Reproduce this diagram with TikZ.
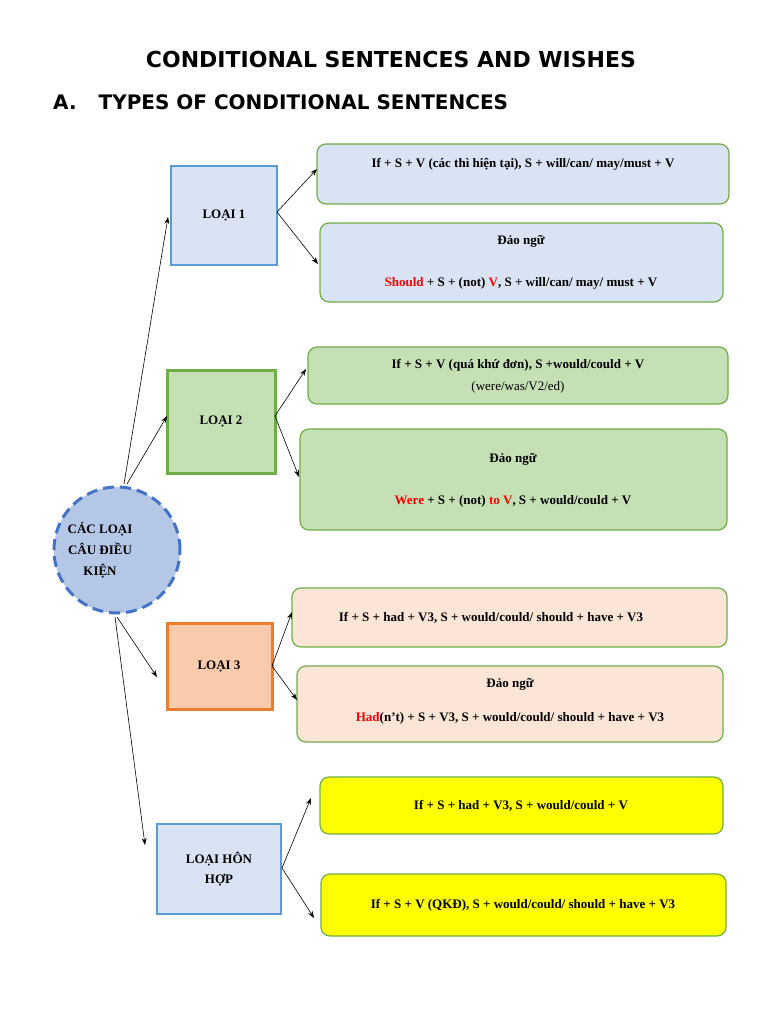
\documentclass[tikz,border=0pt]{standalone}
\usepackage{fontspec}
\setmainfont{Liberation Serif}
\newfontfamily\titlefont{DejaVu Sans}
\usetikzlibrary{arrows.meta}
\definecolor{lblue}{HTML}{DAE3F3}
\definecolor{mblue}{HTML}{5B9BD5}
\definecolor{cblue}{HTML}{B4C7E7}
\definecolor{dblue}{HTML}{4472C4}
\definecolor{lgreen}{HTML}{C5E0B4}
\definecolor{mgreen}{HTML}{70AD47}
\definecolor{lorange}{HTML}{F8CBAD}
\definecolor{morange}{HTML}{ED7D31}
\definecolor{lpeach}{HTML}{FBE5D6}
\definecolor{myyellow}{HTML}{FFFF00}
\definecolor{myred}{HTML}{FF0000}
\begin{document}
\begin{tikzpicture}[x=1pt,y=-1pt,
  every node/.style={font=\fontsize{13}{17}\selectfont\bfseries, align=center, inner sep=0pt},
  typ/.style={draw, line width=2.6pt, minimum width=#1},
  rbox/.style={draw=mgreen, line width=1.2pt, rounded corners=9pt},
  arr/.style={-{Stealth[length=7pt,width=5pt]}, line width=0.6pt},
  red/.style={text=myred}]
\useasboundingbox (0,0) rectangle (768,1024);
\node[font=\titlefont\fontsize{22}{26}\selectfont\bfseries] (title) at (391,59) {CONDITIONAL SENTENCES AND WISHES};
\node[font=\titlefont\fontsize{20}{24}\selectfont\bfseries, anchor=west] (sub) at (53,102) {A.\hspace{22pt}TYPES OF CONDITIONAL SENTENCES};

\node[circle, draw=dblue, fill=cblue, line width=3pt, dash pattern=on 11pt off 6pt, minimum size=126pt] (c) at (117,550) {};
\node[font=\fontsize{13}{21}\selectfont\bfseries] (ct) at (100,550) {CÁC LOẠI\\CÂU ĐIỀU\\KIỆN};

\draw[draw=mblue, fill=lblue, line width=2.6pt] (171,166) rectangle (277,265);
\node (l1) at (224,215) {LOẠI 1};
\draw[draw=mgreen, fill=lgreen, line width=3pt] (167,370) rectangle (275,473);
\node (l2) at (221,421) {LOẠI 2};
\draw[draw=morange, fill=lorange, line width=3pt] (167,623) rectangle (272,709);
\node (l3) at (219,666) {LOẠI 3};
\draw[draw=mblue, fill=lblue, line width=1.4pt] (157,824) rectangle (281,914);
\node (l4) at (219,869) {LOẠI HÔN\\[3pt]HỢP};

\draw[rbox, fill=lblue] (317,144) rectangle (729,204);
\node (r1a) at (523,164) {If + S + V (các thì hiện tại), S + will/can/ may/must + V};
\draw[rbox, fill=lblue] (320,223) rectangle (723,302);
\node (r1b) at (521,241) {Đảo ngữ};
\node (r1c) at (521,283) {\textcolor{myred}{Should} + S + (not) \textcolor{myred}{V}, S + will/can/ may/ must + V};

\draw[rbox, fill=lgreen] (308,347) rectangle (728,404);
\node (r2a) at (518,365) {If + S + V (quá khứ đơn), S +would/could + V};
\node[font=\fontsize{13}{17}\selectfont] (r2a2) at (518,387) {(were/was/V2/ed)};
\draw[rbox, fill=lgreen] (300,429) rectangle (727,530);
\node (r2b) at (513,459) {Đảo ngữ};
\node (r2c) at (513,501) {\textcolor{myred}{Were} + S + (not) \textcolor{myred}{to V}, S + would/could + V};

\draw[rbox, fill=lpeach] (292,588) rectangle (727,647);
\node (r3a) at (491,618) {If + S + had + V3, S + would/could/ should + have + V3};
\draw[rbox, fill=lpeach] (297,666) rectangle (723,742);
\node (r3b) at (510,684) {Đảo ngữ};
\node (r3c) at (510,718) {\textcolor{myred}{Had}(n’t) + S + V3, S + would/could/ should + have + V3};

\draw[rbox, fill=myyellow] (320,777) rectangle (723,834);
\node (r4a) at (521,806) {If + S + had + V3, S + would/could + V};
\draw[rbox, fill=myyellow] (321,874) rectangle (726,936);
\node (r4b) at (523,905) {If + S + V (QKĐ), S + would/could/ should + have + V3};

\coordinate (c1) at (124,484); \coordinate (c2) at (127,484);
\coordinate (c3) at (117,617); \coordinate (c4) at (115,617);
\coordinate (t1) at (168,217); \coordinate (t2) at (167,416);
\coordinate (t3) at (157,677); \coordinate (t4) at (145,845);
\draw[arr] (c1) -- (t1);
\draw[arr] (c2) -- (t2);
\draw[arr] (c3) -- (t3);
\draw[arr] (c4) -- (t4);

\coordinate (s1) at (277,212); \coordinate (s2) at (275,416);
\coordinate (s3) at (272,666); \coordinate (s4) at (282,868);
\coordinate (a1) at (317,169); \coordinate (b1) at (318,264);
\coordinate (a2) at (306,369); \coordinate (b2) at (299,477);
\coordinate (a3) at (292,612); \coordinate (b3) at (297,700);
\coordinate (a4) at (311,798); \coordinate (b4) at (314,918);
\foreach \s/\a/\b in {s1/a1/b1, s2/a2/b2, s3/a3/b3, s4/a4/b4} {
  \draw[arr] (\s) -- (\a);
  \draw[arr] (\s) -- (\b);
}
\end{tikzpicture}
\end{document}
